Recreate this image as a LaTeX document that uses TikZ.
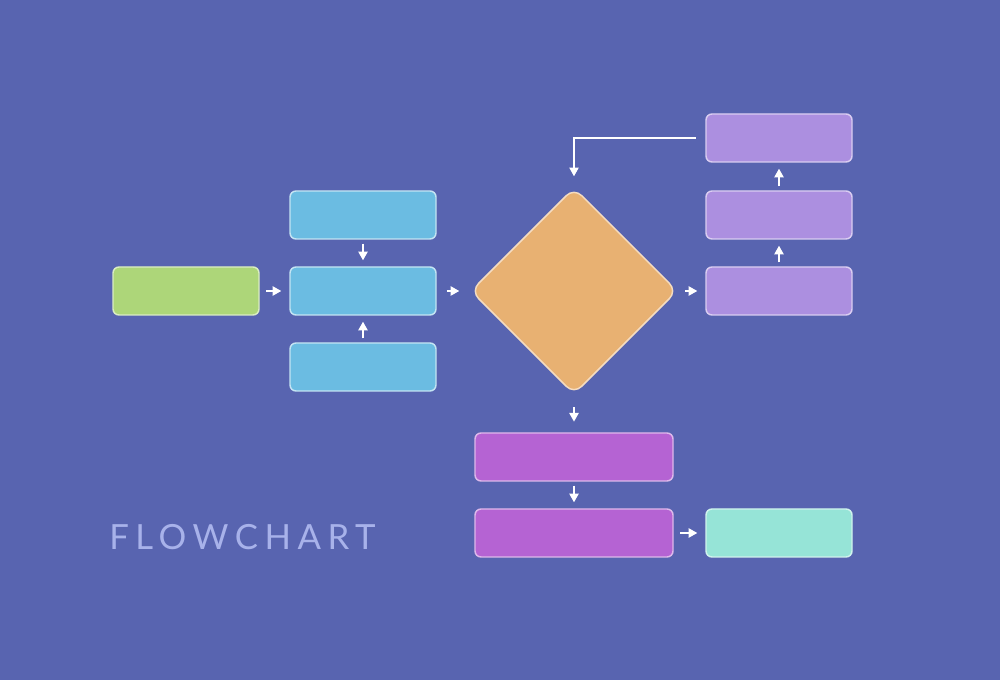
\documentclass[tikz,border=0pt]{standalone}
\usepackage{fontspec}
\usetikzlibrary{arrows.meta,shapes.geometric}
\newfontfamily\titlefont[LetterSpace=19]{Lato}

\definecolor{bgblue}{HTML}{5864B0}
\definecolor{boxgreen}{HTML}{ADD679}
\definecolor{boxblue}{HTML}{6BBCE2}
\definecolor{boxorange}{HTML}{E8B172}
\definecolor{boxpurple}{HTML}{AC8FE0}
\definecolor{boxmagenta}{HTML}{B563D3}
\definecolor{boxteal}{HTML}{96E4D7}
\definecolor{titletext}{HTML}{A8B2EA}

\tikzset{
	box/.style = {draw, shape = rectangle, rounded corners = 4.5pt,
				  line width = 1.1pt, minimum width = 109.5pt,
				  minimum height = 36pt, inner sep = 0pt},
	widebox/.style = {box, minimum width = 148.5pt},
	arr/.style = {white, line width = 1.1pt,
				  -{Triangle[length = 6.5pt, width = 7pt]}}
}

\begin{document}
\begin{tikzpicture}[x = 0.75pt, y = -0.75pt]

	\fill[bgblue] (0,0) rectangle (1000,680);

	% start and inputs
	\draw (186,291) node[box, fill = boxgreen,
					 draw = boxgreen!45!white] (S) {};

	\draw (363,215) node[box, fill = boxblue,
					 draw = boxblue!40!white] (B1) {};
	\draw (363,291) node[box, fill = boxblue,
					 draw = boxblue!40!white] (B2) {};
	\draw (363,367) node[box, fill = boxblue,
					 draw = boxblue!40!white] (B3) {};

	% decision
	\draw (574,291) node[draw = boxorange!45!white, fill = boxorange,
					 shape = diamond, aspect = 1, line width = 1.1pt,
					 rounded corners = 8pt, minimum size = 155pt,
					 inner sep = 0pt] (D) {};

	% right branch
	\draw (779,291) node[box, fill = boxpurple,
					 draw = boxpurple!45!white] (P1) {};
	\draw (779,215) node[box, fill = boxpurple,
					 draw = boxpurple!45!white] (P2) {};
	\draw (779,138) node[box, fill = boxpurple,
					 draw = boxpurple!45!white] (P3) {};

	% lower branch
	\draw (574,457) node[widebox, fill = boxmagenta,
					 draw = boxmagenta!45!white] (M1) {};
	\draw (574,533) node[widebox, fill = boxmagenta,
					 draw = boxmagenta!45!white] (M2) {};
	\draw (779,533) node[box, fill = boxteal,
					 draw = boxteal!45!white] (T) {};

	\draw[arr, shorten <= 5pt, shorten >= 6pt] (S) -- (B2);
	\draw[arr, shorten <= 3pt, shorten >= 4.5pt] (B1) -- (B2);
	\draw[arr, shorten <= 3pt, shorten >= 4.5pt] (B3) -- (B2);
	\draw[arr, shorten <= 7.5pt, shorten >= 8pt] (B2) -- (D);
	\draw[arr, shorten <= 5.5pt, shorten >= 6pt] (D) -- (P1);
	\draw[arr, shorten <= 3pt, shorten >= 4.5pt] (P1) -- (P2);
	\draw[arr, shorten <= 3pt, shorten >= 4.5pt] (P2) -- (P3);
	\draw[arr, shorten <= 9pt, shorten >= 8pt] (D) -- (M1);
	\draw[arr, shorten <= 3pt, shorten >= 4.5pt] (M1) -- (M2);
	\draw[arr, shorten <= 5pt, shorten >= 6pt] (M2) -- (T);

	% loop back
	\draw[arr, line width = 0.8pt, shorten <= 7pt,
		  shorten >= 8pt] (P3.west) -| (D.north);

	\draw (109,550) node[anchor = base west, inner sep = 0pt,
					 text = titletext, font = \titlefont\fontsize{26}{30}\selectfont]
					 (title) {FLOWCHART};
\end{tikzpicture}
\end{document}
